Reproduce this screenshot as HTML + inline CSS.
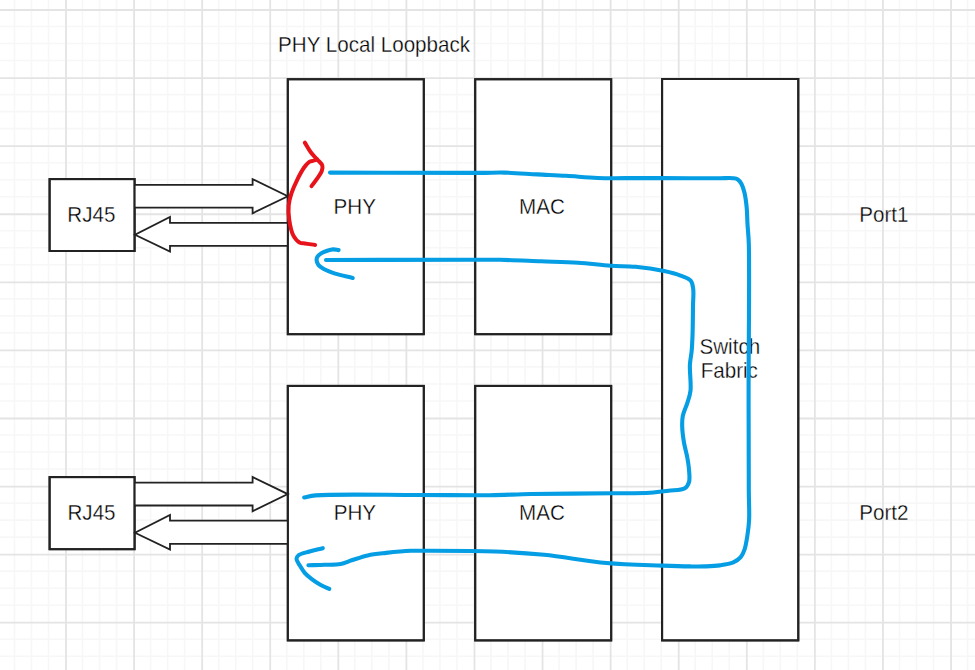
<!DOCTYPE html>
<html><head><meta charset="utf-8"><title>PHY Local Loopback</title>
<style>
html,body{margin:0;padding:0;background:#fff;width:975px;height:670px;overflow:hidden}
svg{display:block;position:absolute;left:0;top:0}
text{font-family:"Liberation Sans",sans-serif;font-size:20.6px;fill:#000;stroke:#fff;stroke-width:0.3px}
</style></head><body>
<svg width="975" height="670" viewBox="0 0 975 670">
<rect width="975" height="670" fill="#ffffff"/>
<path d="M14.44,0V670 M31.46,0V670 M48.48,0V670 M82.52,0V670 M99.54,0V670 M116.56,0V670 M150.60,0V670 M167.62,0V670 M184.64,0V670 M218.68,0V670 M235.70,0V670 M252.72,0V670 M286.76,0V670 M303.78,0V670 M320.80,0V670 M354.84,0V670 M371.86,0V670 M388.88,0V670 M422.92,0V670 M439.94,0V670 M456.96,0V670 M491.00,0V670 M508.02,0V670 M525.04,0V670 M559.08,0V670 M576.10,0V670 M593.12,0V670 M627.16,0V670 M644.18,0V670 M661.20,0V670 M695.24,0V670 M712.26,0V670 M729.28,0V670 M763.32,0V670 M780.34,0V670 M797.36,0V670 M831.40,0V670 M848.42,0V670 M865.44,0V670 M899.48,0V670 M916.50,0V670 M933.52,0V670 M967.56,0V670 M0,26.52H975 M0,43.54H975 M0,60.56H975 M0,94.60H975 M0,111.62H975 M0,128.64H975 M0,162.68H975 M0,179.70H975 M0,196.72H975 M0,230.76H975 M0,247.78H975 M0,264.80H975 M0,298.84H975 M0,315.86H975 M0,332.88H975 M0,366.92H975 M0,383.94H975 M0,400.96H975 M0,435.00H975 M0,452.02H975 M0,469.04H975 M0,503.08H975 M0,520.10H975 M0,537.12H975 M0,571.16H975 M0,588.18H975 M0,605.20H975 M0,639.24H975 M0,656.26H975" stroke="#f7f7f7" stroke-width="1.6" fill="none"/>
<path d="M66.00,0V670 M134.08,0V670 M202.16,0V670 M270.24,0V670 M338.32,0V670 M406.40,0V670 M474.48,0V670 M542.56,0V670 M610.64,0V670 M678.72,0V670 M746.80,0V670 M814.88,0V670 M882.96,0V670 M951.04,0V670 M0,10.00H975 M0,78.08H975 M0,146.16H975 M0,214.24H975 M0,282.32H975 M0,350.40H975 M0,418.48H975 M0,486.56H975 M0,554.64H975 M0,622.72H975" stroke="#e4e4e4" stroke-width="1.8" fill="none"/>
<rect x="287.80" y="79.25" width="136.00" height="254.95" fill="#fff" stroke="#222222" stroke-width="2"/>
<rect x="475.20" y="79.25" width="136.00" height="254.95" fill="#fff" stroke="#222222" stroke-width="2"/>
<rect x="287.80" y="385.90" width="136.00" height="254.50" fill="#fff" stroke="#222222" stroke-width="2"/>
<rect x="475.20" y="385.90" width="136.00" height="254.50" fill="#fff" stroke="#222222" stroke-width="2"/>
<rect x="662.10" y="79.00" width="136.20" height="561.40" fill="#fff" stroke="#222222" stroke-width="2"/>
<rect x="49.60" y="179.10" width="85.00" height="71.90" fill="#fff" stroke="#222222" stroke-width="2"/>
<rect x="49.60" y="477.10" width="85.00" height="72.10" fill="#fff" stroke="#222222" stroke-width="2"/>
<path d="M134.7,184.8 L252.6,184.8 L252.6,179.1 L287.8,196.2 L252.6,213.3 L252.6,207.6 L134.7,207.6" fill="#fff" stroke="#222222" stroke-width="1.8" stroke-linejoin="miter"/>
<path d="M287.8,222.8 L170.0,222.8 L170.0,217.0 L135.0,234.8 L170.0,251.6 L170.0,245.9 L287.8,245.9" fill="#fff" stroke="#222222" stroke-width="1.8" stroke-linejoin="miter"/>
<path d="M134.7,482.7 L252.6,482.7 L252.6,477.0 L287.8,494.1 L252.6,511.2 L252.6,505.5 L134.7,505.5" fill="#fff" stroke="#222222" stroke-width="1.8" stroke-linejoin="miter"/>
<path d="M287.8,520.7 L170.0,520.7 L170.0,514.9 L135.0,532.7 L170.0,549.5 L170.0,543.8 L287.8,543.8" fill="#fff" stroke="#222222" stroke-width="1.8" stroke-linejoin="miter"/>
<rect x="287.80" y="79.25" width="136.00" height="254.95" fill="none" stroke="#222222" stroke-width="2"/>
<rect x="475.20" y="79.25" width="136.00" height="254.95" fill="none" stroke="#222222" stroke-width="2"/>
<rect x="287.80" y="385.90" width="136.00" height="254.50" fill="none" stroke="#222222" stroke-width="2"/>
<rect x="475.20" y="385.90" width="136.00" height="254.50" fill="none" stroke="#222222" stroke-width="2"/>
<rect x="662.10" y="79.00" width="136.20" height="561.40" fill="none" stroke="#222222" stroke-width="2"/>
<rect x="49.60" y="179.10" width="85.00" height="71.90" fill="none" stroke="#222222" stroke-width="2"/>
<rect x="49.60" y="477.10" width="85.00" height="72.10" fill="none" stroke="#222222" stroke-width="2"/>
<text transform="translate(278.10,51.60) scale(1,1.07)">PHY Local Loopback</text>
<text transform="translate(67.30,221.70) scale(1,1.07)">RJ45</text>
<text transform="translate(67.50,520.00) scale(1,1.07)">RJ45</text>
<text transform="translate(333.60,214.10) scale(1,1.07)">PHY</text>
<text transform="translate(519.10,214.10) scale(1,1.07)">MAC</text>
<text transform="translate(333.70,519.80) scale(1,1.07)">PHY</text>
<text transform="translate(519.10,519.90) scale(1,1.07)">MAC</text>
<text transform="translate(699.50,353.90) scale(1,1.07)">Switch</text>
<text transform="translate(700.70,378.10) scale(1,1.07)">Fabric</text>
<text transform="translate(859.20,221.90) scale(1,1.07)">Port1</text>
<text transform="translate(859.20,520.20) scale(1,1.07)">Port2</text>
<path d="M315.10,245.00 C311.73,244.47 307.78,243.79 305.00,243.40 C303.05,243.13 301.63,243.64 300.00,242.80 C297.73,241.63 295.11,238.74 293.40,235.60 C291.17,231.50 289.97,224.75 289.20,219.50 C288.49,214.63 288.26,209.73 288.70,205.20 C289.11,201.00 290.18,197.25 291.50,193.20 C292.94,188.79 295.06,184.13 297.20,179.80 C299.33,175.50 301.96,170.50 304.30,167.30 C305.98,165.01 307.47,163.02 309.30,161.90 C310.82,160.96 312.83,161.02 314.20,160.50 C315.25,160.10 316.00,159.63 316.90,159.20" fill="none" stroke="#e8121a" stroke-width="4.0" stroke-linecap="round" stroke-linejoin="round"/>
<path d="M304.80,142.60 C306.73,145.73 308.50,149.15 310.60,152.00 C312.56,154.65 314.89,156.88 316.90,159.20 C318.78,161.37 321.61,163.34 322.30,165.50 C322.85,167.23 322.42,168.92 321.80,170.80 C320.97,173.30 318.64,176.32 316.90,178.90 C315.20,181.41 313.30,183.70 311.50,186.10" fill="none" stroke="#e8121a" stroke-width="4.0" stroke-linecap="round" stroke-linejoin="round"/>
<path d="M330.00,172.60 C380.00,172.70 451.26,173.05 480.00,172.90 C491.59,172.84 495.66,172.42 504.40,172.60 C514.57,172.81 526.77,173.85 537.40,174.40 C547.33,174.91 556.39,175.22 566.20,175.80 C576.47,176.41 586.42,177.59 597.70,178.00 C610.76,178.47 625.31,178.07 640.00,178.10 C655.97,178.13 675.45,178.19 690.00,178.20 C701.27,178.21 712.01,178.20 720.00,178.20 C725.32,178.20 730.06,177.78 733.30,178.20 C735.22,178.45 736.49,178.56 737.80,179.40 C739.27,180.34 740.46,182.03 741.50,183.90 C742.82,186.27 743.69,189.41 744.50,192.80 C745.53,197.11 746.20,202.68 746.70,207.80 C747.22,213.13 747.17,218.51 747.50,224.20 C747.86,230.40 748.49,234.11 748.80,243.60 C749.65,269.64 748.59,345.84 748.60,390.00 C748.61,426.50 748.66,466.43 748.80,490.00 C748.88,502.89 749.50,511.66 749.10,519.90 C748.82,525.73 748.26,529.85 747.50,534.80 C746.73,539.78 745.90,545.65 744.50,549.70 C743.46,552.71 742.51,555.11 740.70,557.20 C738.82,559.37 736.29,561.08 733.30,562.40 C729.62,564.03 724.52,564.73 719.90,565.40 C715.07,566.10 709.89,566.23 704.90,566.40 C699.93,566.57 695.73,566.48 690.00,566.40 C682.17,566.29 673.06,566.01 662.20,565.60 C646.82,565.02 625.56,564.69 606.50,563.00 C586.25,561.20 563.69,556.74 544.10,554.80 C526.76,553.08 513.03,552.19 494.90,551.50 C472.56,550.65 432.96,550.86 420.00,550.80 C415.46,550.78 414.60,550.64 410.80,550.80 C404.57,551.07 393.81,552.06 386.20,552.90 C379.59,553.63 373.59,554.11 367.70,555.40 C362.12,556.62 356.54,558.75 351.70,560.30 C347.65,561.59 344.70,563.23 340.60,564.00 C335.81,564.90 329.95,564.60 324.60,564.80 C319.22,565.00 313.80,565.07 308.40,565.20" fill="none" stroke="#059de4" stroke-width="4.1" stroke-linecap="round" stroke-linejoin="round"/>
<path d="M322.80,548.20 C318.40,549.30 313.79,550.28 309.60,551.50 C305.72,552.63 300.58,553.45 298.50,555.20 C297.25,556.25 296.52,557.48 296.50,558.90 C296.47,560.78 298.51,563.29 299.80,565.50 C301.21,567.92 302.73,570.54 304.70,572.80 C306.79,575.20 309.49,577.41 312.10,579.40 C314.69,581.37 317.45,583.12 320.30,584.70 C323.18,586.29 326.30,587.50 329.30,588.90" fill="none" stroke="#059de4" stroke-width="4.1" stroke-linecap="round" stroke-linejoin="round"/>
<path d="M304.20,497.40 C307.97,496.73 309.81,495.91 315.50,495.40 C332.50,493.87 386.84,495.02 418.00,495.00 C444.11,494.99 469.36,495.47 490.00,495.20 C505.58,494.99 514.99,494.30 531.00,494.00 C553.64,493.57 591.03,493.57 613.00,493.30 C627.76,493.12 639.79,493.33 650.00,492.70 C657.24,492.25 662.53,491.48 668.50,490.70 C674.14,489.97 681.48,490.37 684.90,488.20 C687.17,486.76 688.23,484.64 689.00,482.10 C690.01,478.79 689.30,473.76 689.00,469.60 C688.70,465.40 687.99,461.32 687.20,457.00 C686.35,452.37 684.82,447.63 684.00,442.70 C683.13,437.52 682.34,431.44 682.20,426.60 C682.09,422.65 682.07,419.48 682.80,415.80 C683.61,411.73 685.91,407.50 687.20,403.30 C688.48,399.13 689.92,395.69 690.50,390.70 C691.32,383.67 689.53,372.23 689.90,364.90 C690.18,359.42 691.26,355.64 691.70,350.60 C692.19,344.98 692.39,339.27 692.60,332.70 C692.86,324.65 692.89,313.72 693.00,305.80 C693.08,299.54 693.83,293.57 693.20,289.00 C692.75,285.74 692.60,282.96 690.80,280.80 C688.71,278.29 684.42,277.11 680.50,275.60 C675.75,273.77 670.37,272.43 664.10,271.10 C655.91,269.37 644.62,267.68 635.40,266.80 C626.91,265.99 619.58,266.39 610.80,265.80 C600.64,265.11 589.27,263.45 578.00,262.70 C566.05,261.91 553.65,261.77 541.00,261.30 C527.68,260.80 511.99,260.02 500.00,259.80 C490.64,259.63 486.82,259.79 475.00,259.80 C446.14,259.82 375.67,259.93 326.00,260.00" fill="none" stroke="#059de4" stroke-width="4.1" stroke-linecap="round" stroke-linejoin="round"/>
<path d="M338.60,250.10 C336.80,249.87 335.04,249.31 333.20,249.40 C331.24,249.50 329.18,250.15 327.20,250.80 C325.15,251.47 322.80,252.30 321.10,253.40 C319.62,254.36 318.14,255.54 317.40,256.80 C316.79,257.85 316.52,258.99 316.60,260.20 C316.70,261.65 317.36,263.51 318.40,264.90 C319.61,266.51 321.56,267.73 323.80,269.00 C326.81,270.71 330.94,272.21 335.20,273.60 C340.36,275.28 346.87,276.53 352.70,278.00" fill="none" stroke="#059de4" stroke-width="4.1" stroke-linecap="round" stroke-linejoin="round"/>
</svg>
</body></html>
